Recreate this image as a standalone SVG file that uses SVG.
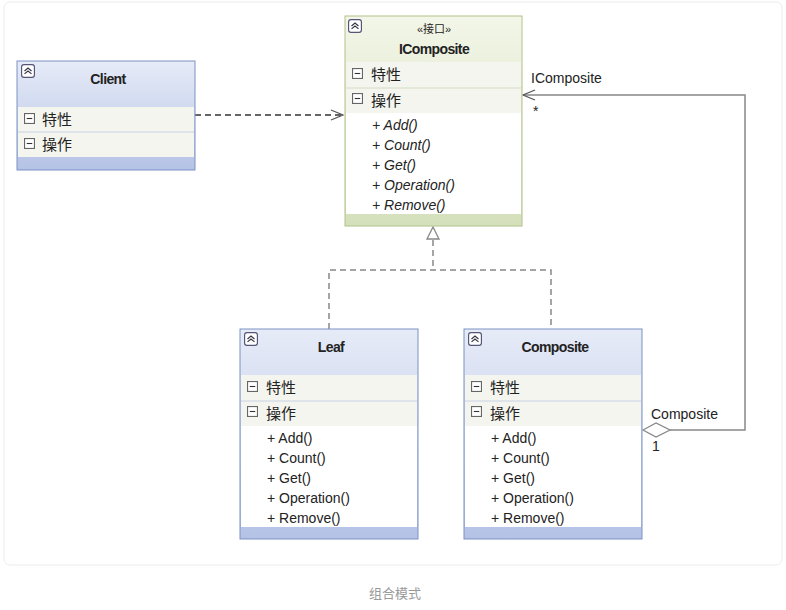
<svg xmlns="http://www.w3.org/2000/svg" width="786" height="610" viewBox="0 0 786 610">
<defs>
<linearGradient id="gb" x1="0" y1="0" x2="0" y2="1"><stop offset="0" stop-color="#e6ebf7"/><stop offset="1" stop-color="#b4c2e6"/></linearGradient>
<linearGradient id="gg" x1="0" y1="0" x2="0" y2="1"><stop offset="0" stop-color="#f3f6e8"/><stop offset="1" stop-color="#d4dfbb"/></linearGradient>
<marker id="open" markerWidth="14" markerHeight="12" refX="13" refY="6" orient="auto" markerUnits="userSpaceOnUse"><path d="M1,1 L13,6 L1,11" fill="none" stroke="#555" stroke-width="1.2"/></marker>
<symbol id="col" viewBox="0 0 12 12"><rect x="0.5" y="0.5" width="11" height="11" rx="2" fill="#fff" stroke="#557"/><path d="M3,6 L6,3.5 L9,6 M3,8.5 L6,6 L9,8.5" fill="none" stroke="#334" stroke-width="1"/></symbol>
<symbol id="minus" viewBox="0 0 10 10"><rect x="0.5" y="0.5" width="9" height="9" fill="#fff" stroke="#666"/><path d="M2.5,5 H7.5" stroke="#333"/></symbol>
</defs>
<style>
text{font-family:"Liberation Sans","Noto Sans CJK SC",sans-serif;fill:#222}
.t{font-weight:bold;font-size:14px;text-anchor:middle;letter-spacing:-0.6px}
.s{font-size:15px}
.m{font-size:14px}
.i{font-size:14px;font-style:italic}
.row{fill:#f4f5ee}
.box{fill:#fff}
.sep{stroke:#c8d2e6}
.conn{fill:none;stroke:#888;stroke-width:1.5}
</style>
<rect x="0" y="0" width="786" height="610" fill="#fff"/>
<rect x="4" y="2" width="778" height="563" rx="6" fill="#fff" stroke="#ececec"/>
<text x="395" y="598" style="font-size:13px;fill:#999;text-anchor:middle">组合模式</text>

<g id="connectors">
<path d="M195,115 H343" fill="none" stroke="#333" stroke-width="1.3" stroke-dasharray="6,4" marker-end="url(#open)"/>
<path d="M433,240 V270 M329,329 V270 H551 V329" class="conn" stroke-dasharray="6,4"/>
<path d="M427,239 L433,227 L439,239 Z" fill="#fff" stroke="#888" stroke-width="1.3"/>
<path d="M670,430 H745 V95 H523" class="conn" marker-end="url(#open)"/>
<path d="M643,430 L656,423 L670,430 L656,437 Z" fill="#fff" stroke="#888" stroke-width="1.3"/>
<text x="531" y="83" class="m">IComposite</text>
<text x="533" y="116" class="m">*</text>
<text x="651" y="419" class="m">Composite</text>
<text x="652" y="451" class="m">1</text>
</g>

<g id="client">
<rect x="17" y="61" width="178" height="109" fill="url(#gb)" stroke="#7d91c4"/>
<use href="#col" x="21" y="64" width="14" height="14"/>
<text x="108" y="84" class="t">Client</text>
<rect x="18" y="107" width="176" height="50" class="row"/>
<line x1="18" y1="132" x2="194" y2="132" class="sep"/>
<use href="#minus" x="24" y="113" width="11" height="11"/><text x="42" y="125" class="s">特性</text>
<use href="#minus" x="24" y="138" width="11" height="11"/><text x="42" y="150" class="s">操作</text>
</g>

<g id="icomposite">
<rect x="345" y="16" width="177" height="210" fill="url(#gg)" stroke="#b2c28a"/>
<use href="#col" x="348" y="19" width="14" height="14"/>
<text x="434" y="33" style="font-size:11px;text-anchor:middle">«接口»</text>
<text x="434" y="54" class="t">IComposite</text>
<rect x="346" y="62" width="175" height="51" class="row"/>
<line x1="346" y1="88" x2="521" y2="88" stroke="#d6dcc4"/>
<rect x="346" y="113" width="175" height="101" class="box"/>
<use href="#minus" x="352" y="68" width="11" height="11"/><text x="371" y="80" class="s">特性</text>
<use href="#minus" x="352" y="93" width="11" height="11"/><text x="371" y="106" class="s">操作</text>
<text x="372" y="130" class="i">+ Add()</text>
<text x="372" y="150" class="i">+ Count()</text>
<text x="372" y="170" class="i">+ Get()</text>
<text x="372" y="190" class="i">+ Operation()</text>
<text x="372" y="210" class="i">+ Remove()</text>
</g>

<g id="leaf">
<rect x="240" y="329" width="178" height="210" fill="url(#gb)" stroke="#7d91c4"/>
<use href="#col" x="244" y="332" width="14" height="14"/>
<text x="331" y="352" class="t">Leaf</text>
<rect x="241" y="375" width="176" height="51" class="row"/>
<line x1="241" y1="401" x2="417" y2="401" class="sep"/>
<rect x="241" y="426" width="176" height="101" class="box"/>
<use href="#minus" x="247" y="381" width="11" height="11"/><text x="266" y="393" class="s">特性</text>
<use href="#minus" x="247" y="406" width="11" height="11"/><text x="266" y="419" class="s">操作</text>
<text x="267" y="443" class="m">+ Add()</text>
<text x="267" y="463" class="m">+ Count()</text>
<text x="267" y="483" class="m">+ Get()</text>
<text x="267" y="503" class="m">+ Operation()</text>
<text x="267" y="523" class="m">+ Remove()</text>
</g>

<g id="composite">
<rect x="464" y="329" width="178" height="210" fill="url(#gb)" stroke="#7d91c4"/>
<use href="#col" x="468" y="332" width="14" height="14"/>
<text x="555" y="352" class="t">Composite</text>
<rect x="465" y="375" width="176" height="51" class="row"/>
<line x1="465" y1="401" x2="641" y2="401" class="sep"/>
<rect x="465" y="426" width="176" height="101" class="box"/>
<use href="#minus" x="471" y="381" width="11" height="11"/><text x="490" y="393" class="s">特性</text>
<use href="#minus" x="471" y="406" width="11" height="11"/><text x="490" y="419" class="s">操作</text>
<text x="491" y="443" class="m">+ Add()</text>
<text x="491" y="463" class="m">+ Count()</text>
<text x="491" y="483" class="m">+ Get()</text>
<text x="491" y="503" class="m">+ Operation()</text>
<text x="491" y="523" class="m">+ Remove()</text>
</g>
</svg>
